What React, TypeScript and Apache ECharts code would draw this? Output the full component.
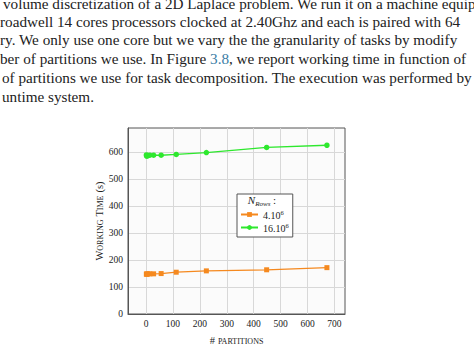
import React, { useEffect, useRef } from "react";
import * as echarts from "echarts";

const partitions = [1, 2, 4, 7, 14, 28, 56, 112, 224, 448, 672];
const rows4 = [148, 148, 148, 149, 149, 149, 150, 155, 160, 164, 172];
const rows16 = [590, 586, 587, 588, 589, 589, 589, 592, 599, 618, 626];
const seriesNames = ["4.10⁶", "16.10⁶"];
const xTicks = [0, 100, 200, 300, 400, 500, 600, 700];
const yTicks = [0, 100, 200, 300, 400, 500, 600];
const paragraph = [
  "volume discretization of a 2D Laplace problem. We run it on a machine equipp",
  "roadwell 14 cores processors clocked at 2.40Ghz and each is paired with 64",
  "ry. We only use one core but we vary the the granularity of tasks by modify",
  "ber of partitions we use. In Figure {l|3.8}, we report working time in function of",
  "of partitions we use for task decomposition. The execution was performed by",
  "untime system.",
];

const SERIF = "Liberation Serif";
const TXT = "#222";

export default function App() {
  const ref = useRef<HTMLDivElement>(null);
  useEffect(() => {
    const chart = echarts.init(ref.current!, null, { renderer: "svg" });
    const lineYs = [3, 21, 39.5, 58, 77, 96];
    const lineXs = [3, 0, 0, 0, 2, 2];
    const FS = 15.2;
    const textEls: any[] = paragraph.map((t, i) => ({
      type: "text",
      x: lineXs[i],
      y: lineYs[i],
      style: {
        text: t,
        fontSize: FS,
        fontFamily: SERIF,
        fill: TXT,
        verticalAlign: "middle",
        rich: {
          l: { fontSize: FS, fontFamily: SERIF, fill: "#3a7ca5" },
        },
      },
    }));
    textEls.push({
      type: "text",
      x: 262,
      y: 201,
      z: 100,
      style: {
        text: "{i|N}{sub|Rows}{n| :}",
        align: "center",
        verticalAlign: "middle",
        fontSize: 11,
        fontFamily: SERIF,
        fill: TXT,
        rich: {
          i: { fontSize: 11, fontStyle: "italic", fontFamily: SERIF, fill: TXT, lineHeight: 13, verticalAlign: "top" },
          sub: { fontSize: 7, fontStyle: "italic", fontFamily: SERIF, fill: TXT, lineHeight: 8, verticalAlign: "bottom" },
          n: { fontSize: 11, fontFamily: SERIF, fill: TXT, lineHeight: 13, verticalAlign: "top" },
        },
      },
    });

    chart.setOption({
      animation: false,
      backgroundColor: "#fff",
      grid: {
        left: 128,
        right: 129,
        top: 128,
        bottom: 44,
        show: true,
        borderColor: "#555",
        borderWidth: 1,
        backgroundColor: "#fbfbfb",
      },
      legend: {
        orient: "vertical",
        left: 237,
        top: 194,
        itemWidth: 17,
        itemHeight: 6,
        itemGap: 2,
        padding: [15, 4, 4, 3],
        backgroundColor: "#fff",
        borderColor: "#555",
        borderWidth: 1,
        borderRadius: 0,
        data: seriesNames,
        formatter: (name: string) =>
          name === seriesNames[0] ? "{n|4.10}{p|6}" : "{n|16.10}{p|6}",
        textStyle: {
          fontFamily: SERIF,
          fontSize: 10,
          color: TXT,
          rich: {
            n: { fontFamily: SERIF, fontSize: 10, color: TXT, lineHeight: 11, verticalAlign: "bottom" },
            p: { fontFamily: SERIF, fontSize: 6.5, color: TXT, lineHeight: 11, verticalAlign: "top" },
          },
        },
      },
      xAxis: {
        type: "value",
        min: -67.2,
        max: 739.2,
        name: "{n|#} {s|PARTITIONS}",
        nameLocation: "middle",
        nameGap: 16,
        nameTextStyle: {
          color: TXT,
          fontFamily: SERIF,
          rich: {
            n: { fontFamily: SERIF, fontSize: 10.5, color: TXT, verticalAlign: "bottom", lineHeight: 12 },
            s: { fontFamily: SERIF, fontSize: 8, color: TXT, verticalAlign: "bottom", lineHeight: 12 },
          },
        },
        axisLine: { show: true, onZero: false, lineStyle: { color: "#555", width: 1 } },
        axisTick: { show: false, customValues: xTicks },
        axisLabel: {
          customValues: xTicks,
          margin: 5,
          fontSize: 9.5,
          fontFamily: SERIF,
          color: TXT,
        },
        splitLine: { show: true, lineStyle: { color: "#d8d8d8", width: 1 } },
      },
      yAxis: {
        type: "value",
        min: 0,
        max: 690,
        name: "{b|W}{s|ORKING} {b|T}{s|IME} {b|(s)}",
        nameLocation: "middle",
        nameGap: 21,
        nameRotate: 90,
        nameTextStyle: {
          color: TXT,
          fontFamily: SERIF,
          rich: {
            b: { fontFamily: SERIF, fontSize: 10.5, color: TXT, verticalAlign: "bottom", lineHeight: 12 },
            s: { fontFamily: SERIF, fontSize: 8, color: TXT, verticalAlign: "bottom", lineHeight: 12 },
          },
        },
        axisLine: { show: true, onZero: false, lineStyle: { color: "#555", width: 1 } },
        axisTick: { show: false, customValues: yTicks },
        axisLabel: {
          customValues: yTicks,
          margin: 5,
          fontSize: 9.5,
          fontFamily: SERIF,
          color: TXT,
        },
        splitLine: { show: true, lineStyle: { color: "#d8d8d8", width: 1 } },
      },
      series: [
        {
          name: seriesNames[0],
          type: "line",
          data: partitions.map((p, i) => [p, rows4[i]]),
          symbol: "rect",
          symbolSize: 5,
          color: "#f5891f",
          lineStyle: { width: 1.3, color: "#f5891f" },
          itemStyle: { color: "#f5891f" },
        },
        {
          name: seriesNames[1],
          type: "line",
          data: partitions.map((p, i) => [p, rows16[i]]),
          symbol: "circle",
          symbolSize: 5.5,
          color: "#2ee82e",
          lineStyle: { width: 1.3, color: "#2ee82e" },
          itemStyle: { color: "#2ee82e" },
        },
      ],
      graphic: textEls,
    });
    return () => chart.dispose();
  }, []);
  return (
    <div
      ref={ref}
      style={{ position: "absolute", left: 0, top: 0, width: 474, height: 358, overflow: "hidden" }}
    />
  );
}
